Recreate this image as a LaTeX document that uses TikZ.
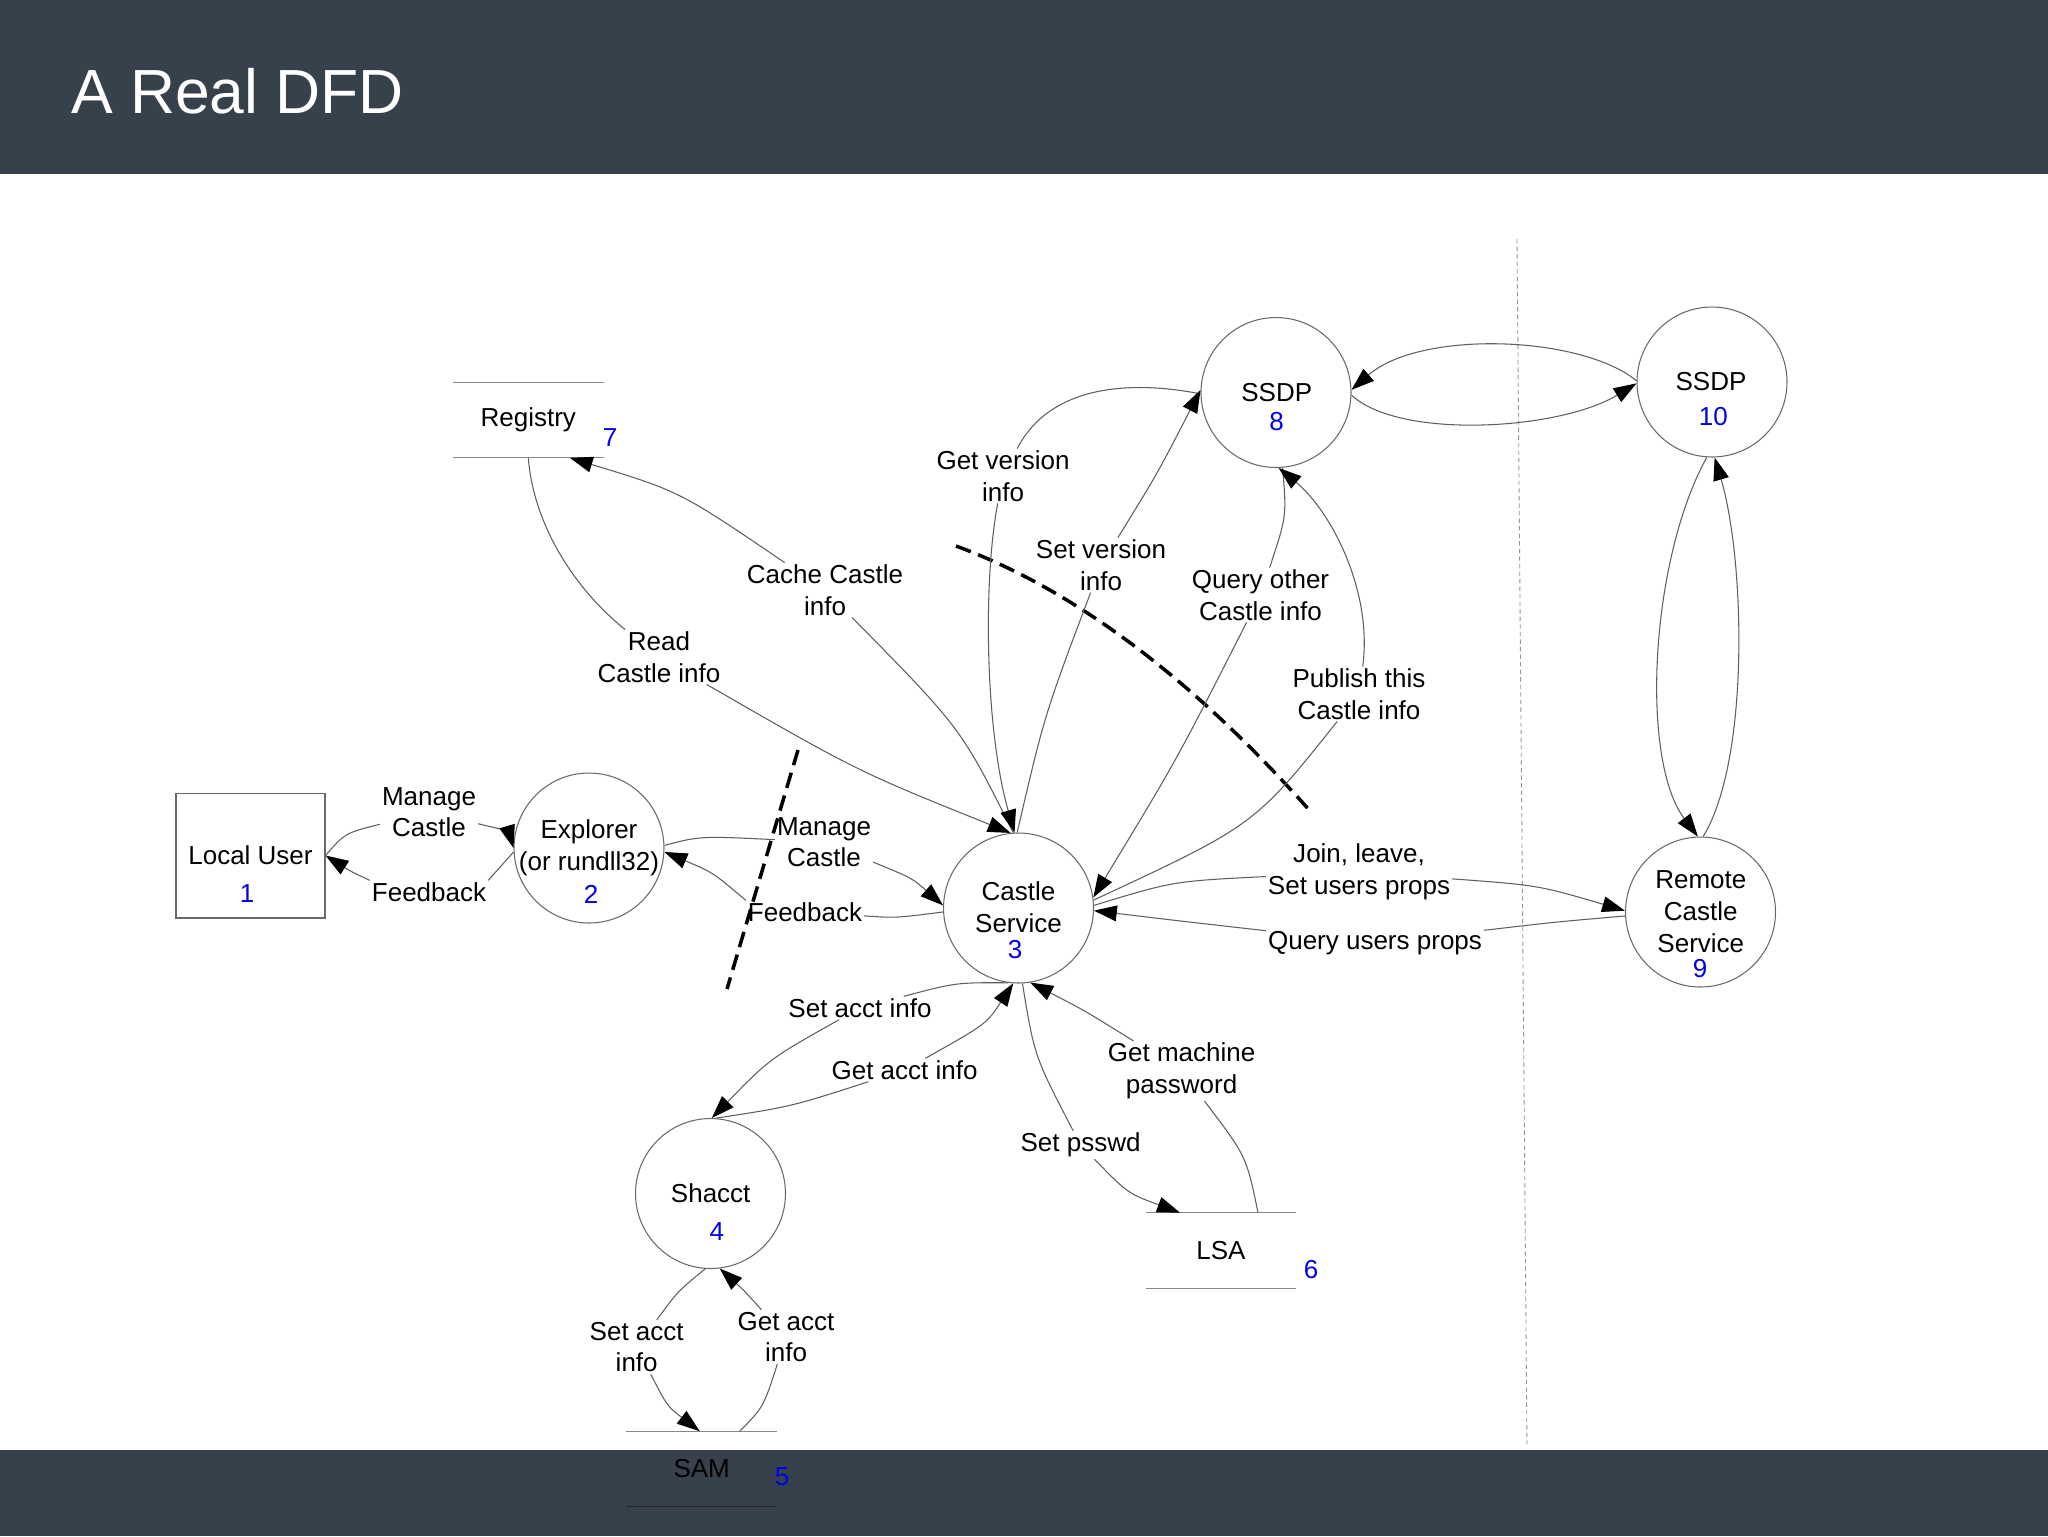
\documentclass[tikz,border=0pt]{standalone}
\usepackage{fontspec}
\setmainfont{Liberation Sans}
\usetikzlibrary{arrows.meta,calc}
\definecolor{band}{RGB}{55,65,76}
\definecolor{numblue}{RGB}{0,0,235}
\definecolor{flowgray}{RGB}{95,95,95}
\definecolor{shapegray}{RGB}{105,105,105}
\definecolor{storegray}{RGB}{135,135,135}
\definecolor{divgray}{RGB}{150,150,150}
\begin{document}
\begin{tikzpicture}[x=0.02cm, y=-0.02cm,
  lbl/.style={font=\fontsize{14.8pt}{18pt}\selectfont, align=center, inner sep=1pt},
  numtxt/.style={font=\fontsize{14.8pt}{18pt}\selectfont, text=numblue, inner sep=0pt},
  proc/.style={circle, draw=shapegray, line width=0.6pt, minimum size=3cm, inner sep=0pt},
  entity/.style={rectangle, draw=shapegray, line width=0.6pt, minimum width=2.98cm, minimum height=2.5cm, inner sep=0pt},
  store/.style={rectangle, minimum width=3cm, minimum height=1.5cm, inner sep=0pt, font=\fontsize{14.8pt}{18pt}\selectfont},
  storeline/.style={draw=storegray, line width=0.7pt},
  flow/.style={draw=flowgray, line width=0.6pt},
  arr/.style={flow, -{Triangle[length=13pt,width=9pt,color=black]}},
  bound/.style={draw=black, line width=2pt, dash pattern=on 9pt off 4.5pt},
  divider/.style={draw=divgray, line width=0.5pt, dash pattern=on 2.5pt off 1.8pt}]

\useasboundingbox (0,0) rectangle (2048,1536);
\fill[white] (0,0) rectangle (2048,1536);
\fill[band] (0,0) rectangle (2048,174);
\fill[band] (0,1450) rectangle (2048,1536);
\node[anchor=base west, inner sep=0pt, text=white, font=\fontsize{35.5pt}{40pt}\selectfont] (title) at (71,113) {A Real DFD};

% boundaries
\draw[divider] (1517,239) -- (1527,1447);
\draw[bound] (798,750) -- (727,989);
\draw[bound] (956,546) .. controls (1073.7,589.3) and (1192,678) .. (1311,812);

% external entity
\node[entity] (lu) at (250.5,855.5) {};
\node[lbl] (lut) at (250.5,855) {Local User};
\node[numtxt] (n1) at (247,894) {1};

% processes
\node[proc] (ex) at (589,848) {};
\node[lbl] (ext) at (589,847.5) {Explorer\\(or rundll32)};
\node[numtxt] (n2) at (591,894) {2};

\node[proc] (cs) at (1018.5,908) {};
\node[lbl] (cst) at (1018.5,907) {Castle\\Service};
\node[numtxt] (n3) at (1015,950) {3};

\node[proc] (sh) at (710.5,1193.5) {};
\node[lbl] (sht) at (710.7,1193) {Shacct};
\node[numtxt] (n4) at (716.8,1232) {4};

\node[proc] (s8) at (1276,392.5) {};
\node[lbl] (s8t) at (1276.7,393) {SSDP};
\node[numtxt] (n8) at (1276.7,421.7) {8};

\node[proc] (s10) at (1712,382) {};
\node[lbl] (s10t) at (1711,382) {SSDP};
\node[numtxt] (n10) at (1713.4,417) {10};

\node[proc] (rm) at (1700.5,912) {};
\node[lbl] (rmt) at (1700.8,911.7) {Remote\\Castle\\Service};
\node[numtxt] (n9) at (1700,968.3) {9};

% data stores
\node[store] (reg) at (528.3,420) {Registry};
\draw[storeline] (reg.north west) -- (reg.north east) (reg.south west) -- (reg.south east);
\node[numtxt] (n7) at (610,438) {7};

\node[store] (lsa) at (1221,1250.5) {LSA};
\draw[storeline] (lsa.north west) -- (lsa.north east) (lsa.south west) -- (lsa.south east);
\node[numtxt] (n6) at (1311,1270) {6};

\node[store] (sam) at (701.7,1469) {SAM};
\draw[storeline] (sam.north west) -- (sam.north east);
\draw[draw=black!85, line width=0.7pt] (sam.south west) -- (sam.south east);
\node[numtxt] (n5) at (782,1477) {5};

% Local User <-> Explorer
\node[lbl] (mcA) at (429,812) {Manage\\Castle};
\node[lbl] (fbA) at (429,892) {Feedback};
\draw[flow] (lu.east) .. controls (345,833) .. (mcA);
\draw[arr] (mcA) .. controls (508.5,831) .. (ex.180);
\draw[flow] (ex.183) .. controls (500,866) .. (fbA.north east);
\draw[arr] (fbA.north west) .. controls (351,871.5) .. (lu.east);

% Explorer <-> Castle Service
\node[lbl] (mcB) at (824,842) {Manage\\Castle};
\node[lbl] (fbB) at (805,912) {Feedback};
\draw[flow] (ex.2) .. controls (700,836) .. (mcB);
\draw[arr] (mcB) .. controls (912,878) .. (cs.178);
\draw[flow] (cs.183) .. controls (896,918) .. (fbB);
\draw[arr] (fbB.north west) .. controls (713,872.5) .. (ex.357);

% Registry <-> Castle Service
\node[lbl] (rci) at (659,657) {Read\\Castle info};
\node[lbl] (cci) at (825,590) {Cache Castle\\info};
\draw[flow] (reg.south) .. controls (533,520) and (570,585) .. (rci);
\draw[arr] (rci) .. controls (857.5,771.3) .. (cs.96);
\draw[flow] (cs.94) .. controls (961.2,728.3) .. (cci);
\draw[arr] (cci) .. controls (679.8,491.3) .. ($(reg.south)+(41.5,0)$);

% SSDP 8 <-> Castle Service
\node[lbl] (gvi) at (1003,476) {Get version\\info};
\node[lbl] (svi) at (1101,565) {Set version\\info};
\node[lbl] (qoc) at (1260.5,595) {Query other\\Castle info};
\node[lbl] (pub) at (1359,694) {Publish this\\Castle info};
\draw[flow] (s8.181) .. controls (1130,380) and (1050,385) .. (gvi);
\draw[arr] (gvi) .. controls (983,580) and (985,730) .. (cs.93);
\draw[flow] (cs.91) .. controls (1044.5,714.8) .. (svi);
\draw[arr] (svi) .. controls (1157.5,473.4) .. (s8.178);
\draw[flow] (s8.275) .. controls (1286.7,516.1) .. (qoc);
\draw[arr] (qoc) .. controls (1176.7,759.9) .. (cs.8);
\draw[flow] (cs.6) .. controls (1254.5,825.2) .. (pub);
\draw[arr] (pub) .. controls (1373,590) and (1330,510) .. (s8.272);

% SSDP 8 <-> SSDP 10
\draw[arr] (s10.179) .. controls (1580,335) and (1420,330) .. (s8.2);
\draw[arr] (s8.358) .. controls (1400,440) and (1560,430) .. (s10.181);

% SSDP 10 <-> Remote Castle Service
\draw[arr] (s10.266) .. controls (1650,560) and (1640,760) .. (rm.92);
\draw[arr] (rm.88) .. controls (1750,760) and (1745,560) .. (s10.272);

% Castle Service <-> Remote Castle Service
\node[lbl] (jl) at (1359,872) {Join, leave,\\Set users props};
\node[lbl] (qup) at (1375,943) {Query users props};
\draw[flow] (cs.2) .. controls (1173.3,881.1) .. (jl);
\draw[arr] (jl) .. controls (1538.3,885.2) .. (rm.179);
\draw[flow] (rm.183) .. controls (1555,922) .. (qup);
\draw[arr] (qup) .. controls (1180,921) .. (cs.358);

% Castle Service <-> Shacct
\node[lbl] (sai1) at (860,1008) {Set acct info};
\node[lbl] (gai1) at (904.6,1070) {Get acct info};
\draw[flow] (cs.262) .. controls (955.7,982.5) .. (sai1);
\draw[arr] (sai1) .. controls (770.1,1058.4) .. (sh.89);
\draw[flow] (sh.86) .. controls (791.3,1106.6) .. (gai1);
\draw[arr] (gai1) .. controls (986.5,1023.9) .. (cs.266);

% Castle Service <-> LSA
\node[lbl] (sp) at (1080.6,1145) {Set psswd};
\node[lbl] (gmp) at (1181.6,1071) {Get machine\\password};
\draw[flow] (cs.273) .. controls (1034.4,1056.3) .. (sp);
\draw[arr] (sp) .. controls (1127.7,1193.3) .. ($(lsa.north)+(-41,0)$);
\draw[flow] ($(lsa.north)+(37,0)$) .. controls (1246.4,1156.2) .. (gmp);
\draw[arr] (gmp) .. controls (1085,1010.7) .. (cs.279);

% Shacct <-> SAM
\node[lbl] (sai2) at (636.7,1347) {Set acct\\info};
\node[lbl] (gai2) at (786,1337) {Get acct\\info};
\draw[flow] (sh.266) .. controls (678,1291) .. (sai2);
\draw[arr] (sai2) .. controls (667.3,1406.3) .. ($(sam.north)+(-2,0)$);
\draw[flow] ($(sam.north)+(38,0)$) .. controls (763.5,1407.1) .. (gai2);
\draw[arr] (gai2) .. controls (744.3,1290.7) .. (sh.277);
\end{tikzpicture}
\end{document}
